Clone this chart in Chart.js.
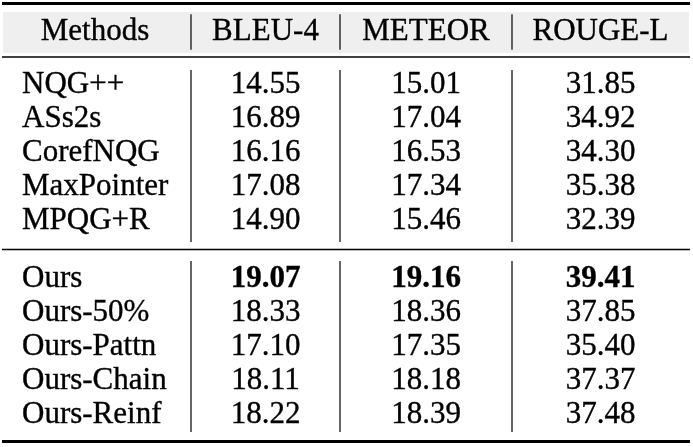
<!DOCTYPE html>
<html>
<head>
<meta charset="utf-8">
<title>Results table</title>
<script src="https://cdn.jsdelivr.net/npm/chart.js@4.4.1/dist/chart.umd.min.js"></script>
<style>
  html, body { margin: 0; padding: 0; background: #fff; }
  #wrap { width: 693px; height: 447px; position: relative; }
</style>
</head>
<body>
<div id="wrap"><canvas id="tableChart"></canvas></div>
<script>
// table data
const headers = ["Methods", "BLEU-4", "METEOR", "ROUGE-L"];
const methods = ["NQG++", "ASs2s", "CorefNQG", "MaxPointer", "MPQG+R",
                 "Ours", "Ours-50%", "Ours-Pattn", "Ours-Chain", "Ours-Reinf"];
const bleu4  = [14.55, 16.89, 16.16, 17.08, 14.90, 19.07, 18.33, 17.10, 18.11, 18.22];
const meteor = [15.01, 17.04, 16.53, 17.34, 15.46, 19.16, 18.36, 17.35, 18.18, 18.39];
const rougeL = [31.85, 34.92, 34.30, 35.38, 32.39, 39.41, 37.85, 35.40, 37.37, 37.48];
const blockSizes = [5, 5];

// layout (x in px units, y in row units; header baseline = row 0)
const colEdges = [3, 191, 340, 512, 689];
const methodX = 22;
const blockStart = [1.56, 7.26];
const rules = [
  { y: -1.07, w: 3 },   // top
  { y: 0.5, w: 1.5 },   // under header
  { y: 6.16, w: 1.5 },  // between blocks
  { y: 11.81, w: 3 }    // bottom
];
const headBand = [-0.82, 0.38];
const vSegments = [[-0.76, 0.29], [0.88, 5.94], [6.5, 11.53]];
const FONT = "'Liberation Serif', 'Times New Roman', serif";
const SIZE = "31px ";

// row position of each method
const rowPos = [];
blockSizes.forEach((n, b) => {
  for (let i = 0; i < n; i++) rowPos.push(blockStart[b] + i);
});

const colCenter = (c) => (colEdges[c] + colEdges[c + 1]) / 2;
const series = [bleu4, meteor, rougeL];

const datasets = [
  {
    label: headers[0],
    data: methods.map((m, i) => ({ x: methodX, y: rowPos[i] })),
    texts: methods,
    align: "left",
    headerX: colCenter(0) - 2
  }
].concat(series.map((vals, s) => {
  const best = Math.max(...vals);
  return {
    label: headers[s + 1],
    data: vals.map((v, i) => ({ x: colCenter(s + 1), y: rowPos[i] })),
    texts: vals.map(v => v.toFixed(2)),
    bold: vals.map(v => v === best),
    align: "center",
    headerX: colCenter(s + 1)
  };
}));

function drawText(ctx, txt, px, py) {
  ctx.fillText(txt, px, py);
  ctx.strokeText(txt, px, py);
}

const tablePlugin = {
  id: "tablePlugin",
  beforeDatasetsDraw(chart) {
    const { ctx, scales: { x, y } } = chart;
    ctx.save();
    // header band
    ctx.fillStyle = "#efefef";
    ctx.fillRect(x.getPixelForValue(colEdges[0]), y.getPixelForValue(headBand[0]),
      x.getPixelForValue(colEdges[4]) - x.getPixelForValue(colEdges[0]),
      y.getPixelForValue(headBand[1]) - y.getPixelForValue(headBand[0]));
    // horizontal rules
    ctx.strokeStyle = "#000";
    rules.forEach(r => {
      ctx.lineWidth = r.w;
      ctx.beginPath();
      ctx.moveTo(x.getPixelForValue(colEdges[0] - 1), y.getPixelForValue(r.y));
      ctx.lineTo(x.getPixelForValue(colEdges[4] + 1), y.getPixelForValue(r.y));
      ctx.stroke();
    });
    // vertical separators
    ctx.lineWidth = 1.2;
    for (let c = 1; c <= 3; c++) {
      const px = x.getPixelForValue(colEdges[c]);
      vSegments.forEach(seg => {
        ctx.beginPath();
        ctx.moveTo(px, y.getPixelForValue(seg[0]));
        ctx.lineTo(px, y.getPixelForValue(seg[1]));
        ctx.stroke();
      });
    }
    ctx.restore();
  },
  afterDatasetsDraw(chart) {
    const { ctx, scales: { x, y } } = chart;
    ctx.save();
    ctx.fillStyle = "#000";
    ctx.strokeStyle = "#000";
    ctx.lineWidth = 0.35;
    ctx.textBaseline = "alphabetic";
    chart.data.datasets.forEach((ds, d) => {
      // header text
      ctx.font = SIZE + FONT;
      ctx.textAlign = "center";
      drawText(ctx, ds.label, x.getPixelForValue(ds.headerX), y.getPixelForValue(0));
      // cells
      const meta = chart.getDatasetMeta(d);
      meta.data.forEach((pt, i) => {
        ctx.font = (ds.bold && ds.bold[i] ? "bold " : "") + SIZE + FONT;
        ctx.textAlign = ds.align;
        drawText(ctx, ds.texts[i], pt.x, pt.y);
      });
    });
    ctx.restore();
  }
};

new Chart(document.getElementById("tableChart"), {
  type: "scatter",
  data: { datasets: datasets },
  options: {
    responsive: true,
    maintainAspectRatio: false,
    animation: false,
    events: [],
    layout: { padding: 0 },
    elements: { point: { radius: 0, hoverRadius: 0 } },
    plugins: { legend: { display: false }, tooltip: { enabled: false } },
    scales: {
      x: { type: "linear", min: 0, max: 693, display: false },
      y: { type: "linear", min: -40 / 34, max: 407 / 34, reverse: true, display: false }
    }
  },
  plugins: [tablePlugin]
});
</script>
</body>
</html>
